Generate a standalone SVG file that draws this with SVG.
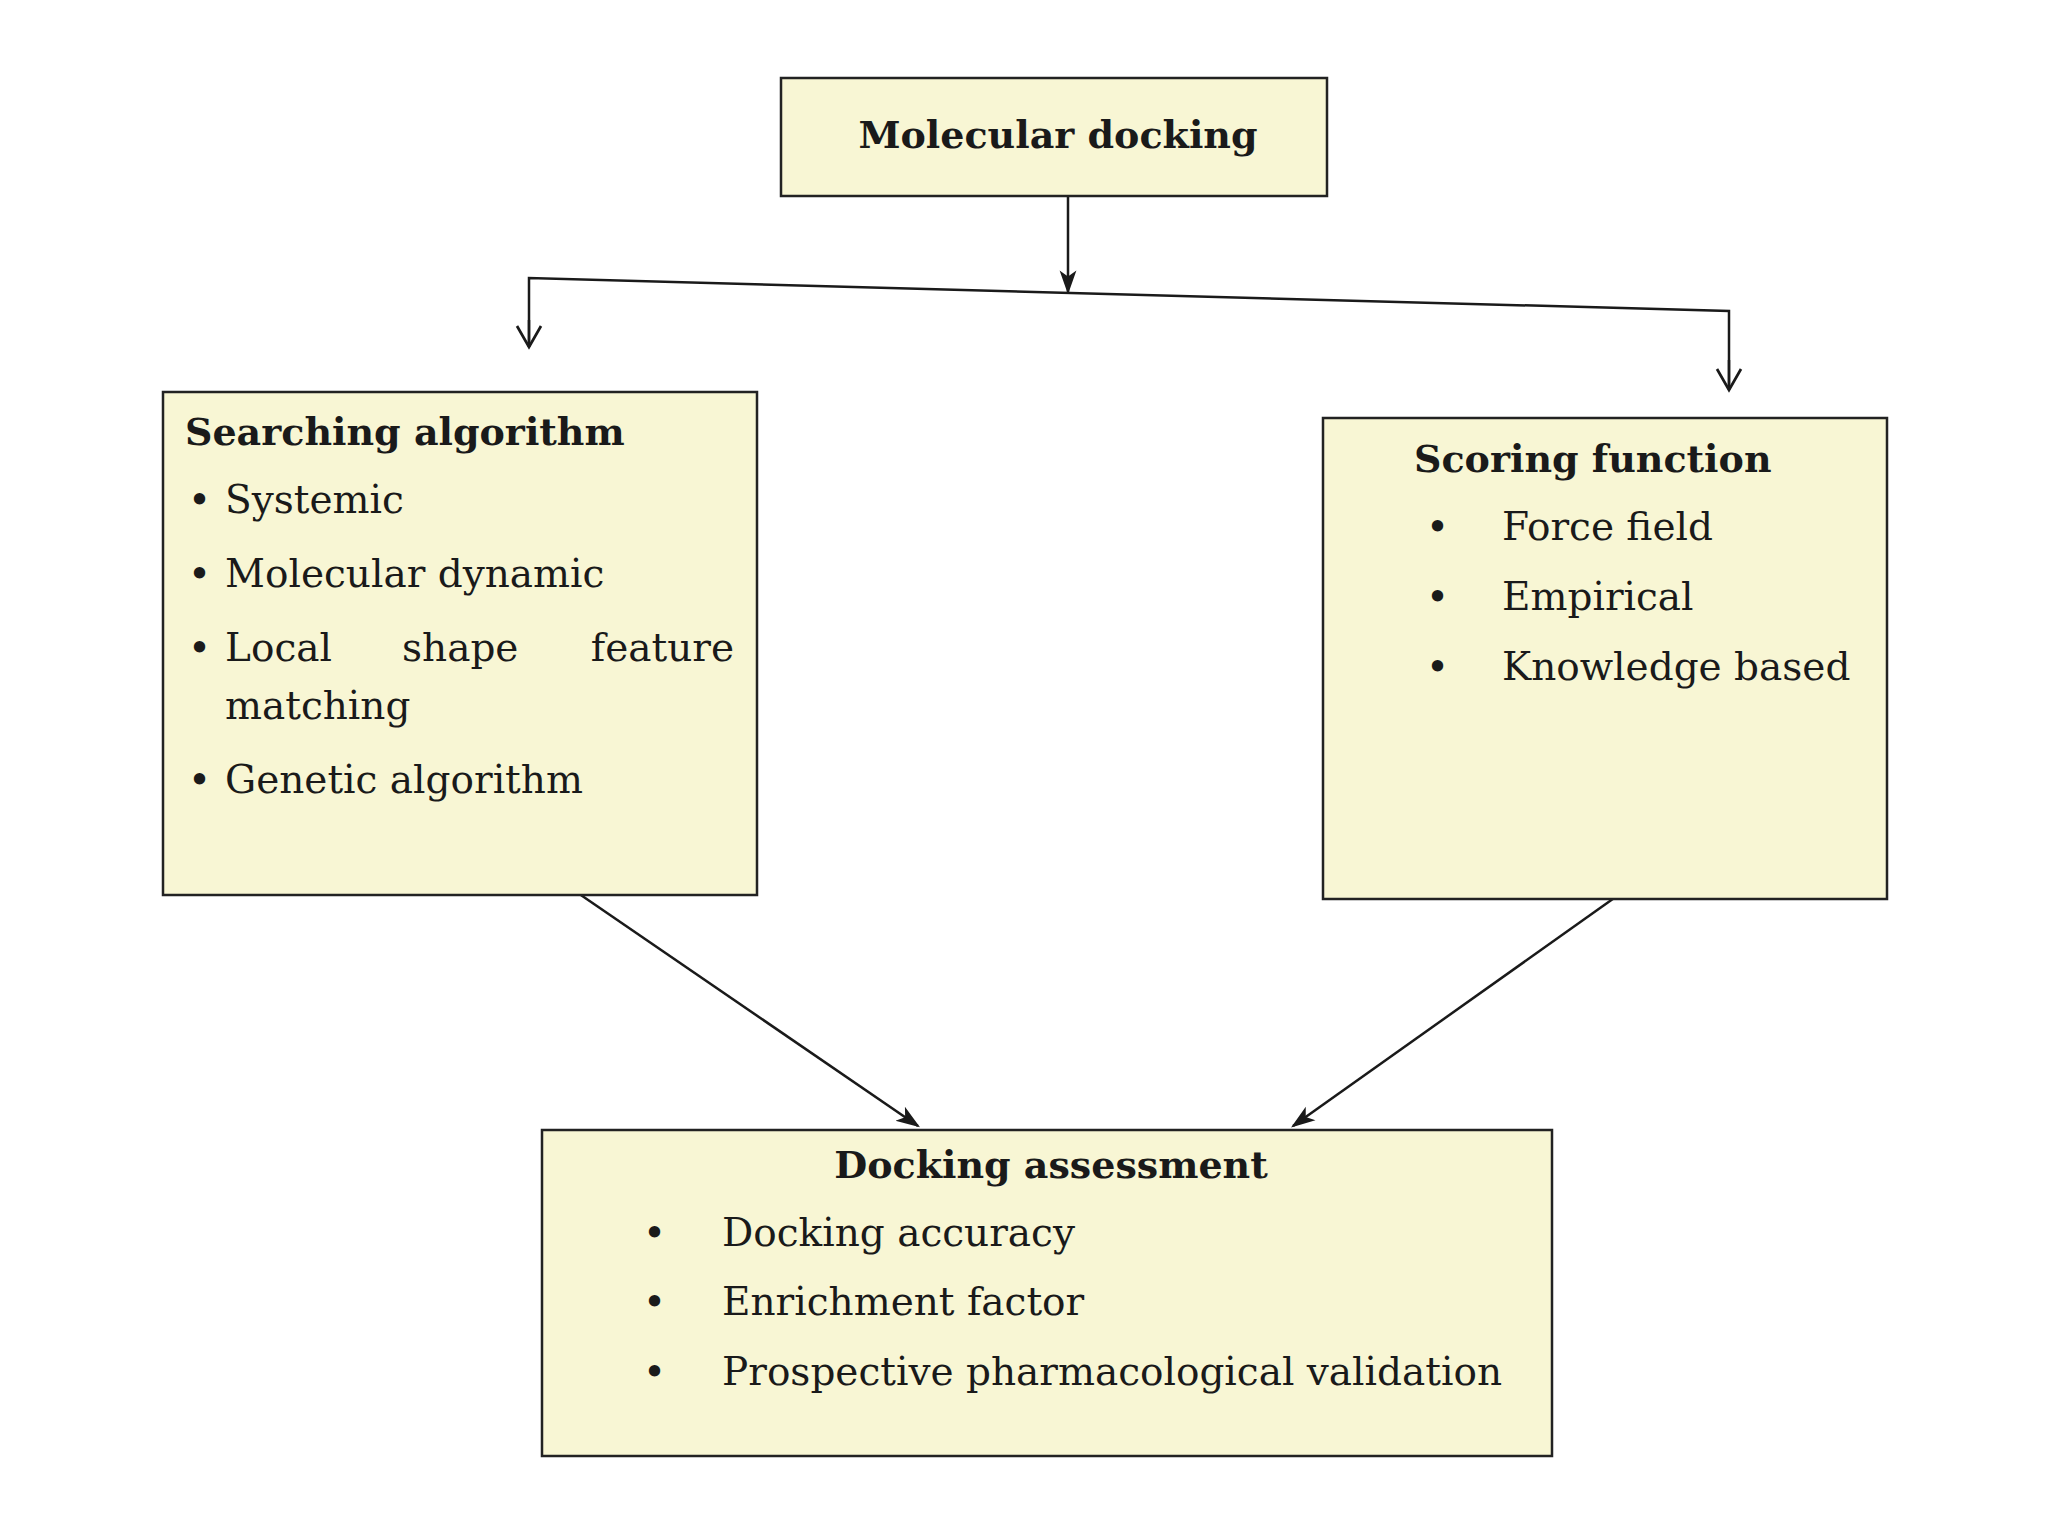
<svg xmlns="http://www.w3.org/2000/svg" width="2048" height="1536" viewBox="0 0 2048 1536">
<defs>
<style>
.box{fill:#f8f6d4;stroke:#222;stroke-width:2.5}
.t{font-family:"DejaVu Serif",serif;font-size:39px;fill:#1a1a1a}
.h{font-family:"DejaVu Serif",serif;font-size:38px;font-weight:bold;fill:#1a1a1a}
.c{fill:none;stroke:#1a1a1a;stroke-width:2.5}
</style>
<marker id="a" viewBox="0 0 20 20" refX="18" refY="10" markerWidth="30" markerHeight="30" orient="auto" markerUnits="userSpaceOnUse"><path d="M4,2 L18,10 L4,18" fill="none" stroke="#1a1a1a" stroke-width="1.8"/></marker>
<marker id="f" viewBox="0 0 20 20" refX="18" refY="10" markerWidth="24" markerHeight="24" orient="auto" markerUnits="userSpaceOnUse"><path d="M0,3 L20,10 L0,17 L5,10 Z" fill="#1a1a1a"/></marker>
</defs>
<rect width="2048" height="1536" fill="#fff"/>
<g id="connectors">
<line class="c" x1="1068" y1="194" x2="1068" y2="292" marker-end="url(#f)"/>
<polyline class="c" points="529,347 529,278 1729,311 1729,388"/>
<line class="c" x1="529" y1="320" x2="529" y2="347" marker-end="url(#a)"/>
<line class="c" x1="1729" y1="360" x2="1729" y2="390" marker-end="url(#a)"/>
<line class="c" x1="575" y1="891" x2="918" y2="1126" marker-end="url(#f)"/>
<line class="c" x1="1617" y1="896" x2="1293" y2="1126" marker-end="url(#f)"/>
</g>
<g id="n1"><rect class="box" x="781" y="78" width="546" height="118"/><text class="h" x="1058" y="148" text-anchor="middle">Molecular docking</text></g>
<g id="n2"><rect class="box" x="163" y="392" width="594" height="503"/>
<text class="h" x="185" y="445">Searching algorithm</text>
<text class="t" x="188" y="513">•</text><text class="t" x="225" y="513">Systemic</text>
<text class="t" x="188" y="587">•</text><text class="t" x="225" y="587">Molecular dynamic</text>
<text class="t" x="188" y="661">•</text><text class="t" x="225" y="661">Local</text><text class="t" x="402" y="661">shape</text><text class="t" x="734" y="661" text-anchor="end">feature</text>
<text class="t" x="225" y="719">matching</text>
<text class="t" x="188" y="793">•</text><text class="t" x="225" y="793">Genetic algorithm</text>
</g>
<g id="n3"><rect class="box" x="1323" y="418" width="564" height="481"/>
<text class="h" x="1414" y="472">Scoring function</text>
<text class="t" x="1426" y="540">•</text><text class="t" x="1502" y="540">Force field</text>
<text class="t" x="1426" y="610">•</text><text class="t" x="1502" y="610">Empirical</text>
<text class="t" x="1426" y="680">•</text><text class="t" x="1502" y="680">Knowledge based</text>
</g>
<g id="n4"><rect class="box" x="542" y="1130" width="1010" height="326"/>
<text class="h" x="1051" y="1178" text-anchor="middle">Docking assessment</text>
<text class="t" x="643" y="1246">•</text><text class="t" x="722" y="1246">Docking accuracy</text>
<text class="t" x="643" y="1315">•</text><text class="t" x="722" y="1315">Enrichment factor</text>
<text class="t" x="643" y="1385">•</text><text class="t" x="722" y="1385">Prospective pharmacological validation</text>
</g>
</svg>
